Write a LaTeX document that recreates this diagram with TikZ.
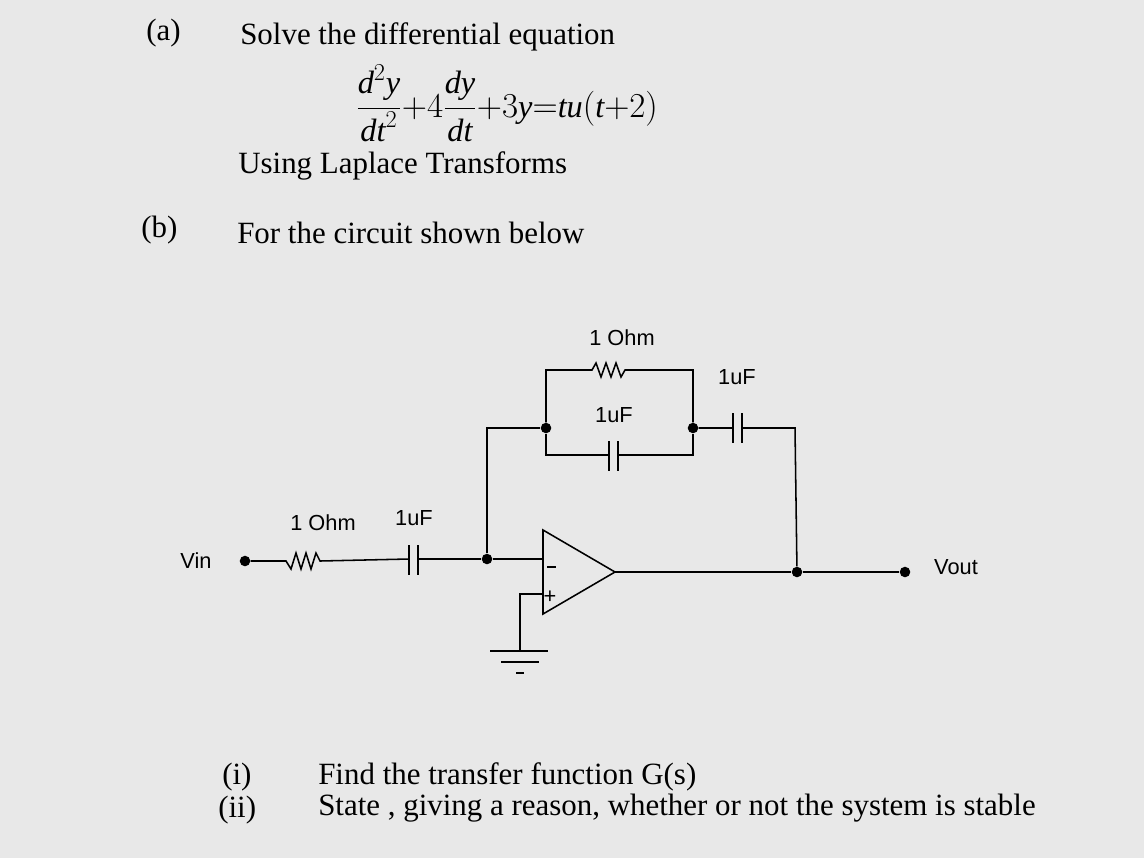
\documentclass[tikz,border=0pt]{standalone}
\usepackage{fontspec}
\setmainfont{Liberation Serif}
\setsansfont{Liberation Sans}
\begin{document}
\begin{tikzpicture}[x=0.025cm,y=-0.025cm,
  txt/.style={anchor=west,font=\fontsize{22}{26}\selectfont,inner sep=0},
  lab/.style={font=\sffamily\fontsize{15.5}{18}\selectfont,inner sep=0},
  wire/.style={line width=1.1pt},
  dot/.style={circle,fill,inner sep=0,minimum size=7.5pt}]
\fill[gray!18] (0,0) rectangle (1144,858);
\useasboundingbox (0,0) rectangle (1144,858);
% texts
\node[txt] (ta) at (146,33) {(a)};
\node[txt] (t1) at (240,37) {Solve the differential equation};
\node[font=\fontsize{23}{27}\selectfont] (eq) at (507,103) {$\displaystyle \frac{\textit{d}^2\textit{y}}{\textit{dt}^2}{+}4\frac{\textit{dy}}{\textit{dt}}{+}3\textit{y}{=}\textit{tu}(\textit{t}{+}2)$};
\node[txt] (t2) at (238,166) {Using Laplace Transforms};
\node[txt] (tb) at (141,230) {(b)};
\node[txt] (t3) at (237,233) {For the circuit shown below};
\node[txt] (ti) at (222,777) {(i)};
\node[txt] (t4) at (318,777) {Find the transfer function G(s)};
\node[txt] (tii) at (218,810) {(ii)};
\node[txt] (t5) at (318,808) {State , giving a reason, whether or not the system is stable};
% nodes
\node[dot] (vin) at (245,561) {};
\node[dot] (n1) at (487,559) {};
\node[dot] (a) at (546,428) {};
\node[dot] (b) at (693,428) {};
\node[dot] (n2) at (797,572) {};
\node[dot] (vout) at (905,572) {};
\node[lab] (lvin) at (196,561) {Vin};
\node[lab] (lvout) at (956,567) {Vout};
\node[lab] (l1) at (323,523) {1 Ohm};
\node[lab] (l2) at (414,518) {1uF};
\node[lab] (l3) at (622,338) {1 Ohm};
\node[lab] (l4) at (614,415) {1uF};
\node[lab] (l5) at (737,377) {1uF};
% input branch
\draw[wire] (vin) -- (286,561) -- ++(5,8) -- ++(5,-16) -- ++(5,16) -- ++(5,-16) -- ++(5,16) -- ++(5,-16) -- ++(4,8) -- (409,559);
\draw[wire] (409,545) -- (409,575) (418,545) -- (418,575);
\draw[wire] (418,559) -- (n1) -- (543,559);
% opamp
\draw[wire] (543,530) -- (615,572) -- (543,614) -- cycle;
\draw[wire] (547,567) -- (556,567);
\node[lab] (plus) at (550,597) {+};
\draw[wire] (615,572) -- (n2) -- (vout);
% ground
\draw[wire] (543,594) -- (520,594) -- (520,651);
\draw[wire] (490,651) -- (548,651) (501,662) -- (539,662) (516,673) -- (524,673);
% feedback
\draw[wire] (n1) -- (487,428) -- (a);
\draw[wire] (a) -- (546,370) -- (592,370) -- ++(4,-7) -- ++(5,14) -- ++(5,-14) -- ++(5,14) -- ++(5,-14) -- ++(5,14) -- ++(4,-7) -- (693,370) -- (b);
\draw[wire] (a) -- (546,455) -- (609,455) (618,455) -- (693,455) -- (b);
\draw[wire] (609,441) -- (609,471) (618,441) -- (618,471);
\draw[wire] (b) -- (733,428) (742,428) -- (795,428) -- (n2);
\draw[wire] (733,413) -- (733,443) (742,413) -- (742,443);
\end{tikzpicture}
\end{document}
